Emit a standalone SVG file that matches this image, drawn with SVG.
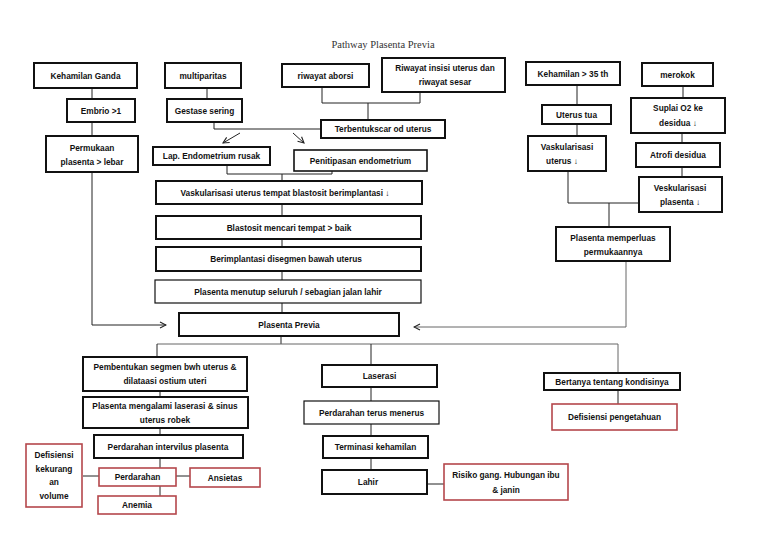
<svg xmlns="http://www.w3.org/2000/svg" width="768" height="543" viewBox="0 0 768 543">
<defs>
<marker id="chev" viewBox="0 0 8 8" refX="7" refY="4" markerWidth="8" markerHeight="8" markerUnits="userSpaceOnUse" orient="auto">
<path d="M1,1 L7,4 L1,7" fill="none" stroke="#222" stroke-width="1.1"/>
</marker>
</defs>
<style>
text{font-family:"Liberation Sans",Arial,sans-serif;font-size:8.3px;font-weight:bold;fill:#111;text-anchor:middle}
.title{font-family:"Liberation Serif","Times New Roman",serif;font-size:10.5px;font-weight:normal;fill:#333}
.b{fill:#fff;stroke:#111;stroke-width:2}
.t{fill:#fff;stroke:#111;stroke-width:1.2}
.r{fill:#fff;stroke:#b5474b;stroke-width:1.6}
.c{fill:none;stroke:#222;stroke-width:1}
.g{fill:none;stroke:#666;stroke-width:1}
</style>
<rect width="768" height="543" fill="#fff"/>
<text class="title" x="383" y="48">Pathway Plasenta Previa</text>

<g id="connectors">
<path class="c" d="M92,88 V99"/>
<path class="c" d="M92,122 V136"/>
<path class="c" d="M92,172 V325 H166" marker-end="url(#chev)"/>
<path class="c" d="M207,88 V99"/>
<path class="c" d="M322,87 V103 H420 V92"/>
<path class="c" d="M368,103 V120"/>
<path class="c" d="M214,122 V129 H321"/>
<path class="c" d="M240,133 L223,143" marker-end="url(#chev)"/>
<path class="c" d="M293,133 L304,143" marker-end="url(#chev)"/>
<path class="c" d="M227,165 V174 H332 V171"/>
<path class="c" d="M282,174 V181"/>
<path class="c" d="M282,204 V216"/>
<path class="c" d="M282,239 V247"/>
<path class="c" d="M282,271 V280"/>
<path class="c" d="M282,303 V313"/>
<path class="c" d="M577,85 V105"/>
<path class="c" d="M577,124 V136"/>
<path class="c" d="M683,86 V98"/>
<path class="c" d="M682,133 V143"/>
<path class="c" d="M682,167 V177"/>
<path class="c" d="M568,171 V203 H639"/>
<path class="c" d="M609,203 V227"/>
<path class="g" d="M626,261 V327 H414" marker-end="url(#chev)"/>
<path class="c" d="M281,336 V344"/>
<path class="g" d="M157,344 H618 V373"/>
<path class="c" d="M157,344 V357"/>
<path class="c" d="M371,344 V365"/>
<path class="c" d="M160,391 V397"/>
<path class="c" d="M160,428 V435"/>
<path class="c" d="M160,458 V468"/>
<path class="c" d="M160,486 V496"/>
<path class="c" d="M83,476 H99"/>
<path class="c" d="M176,476 H190"/>
<path class="c" d="M371,387 V401"/>
<path class="c" d="M371,424 V436"/>
<path class="c" d="M371,458 V470"/>
<path class="c" d="M427,484 H444"/>
<path class="c" d="M618,390 V404"/>
</g>

<g id="n-kehamilan-ganda"><rect class="b" x="34" y="63" width="103" height="25"/><text x="85.5" y="78.5">Kehamilan Ganda</text></g>
<g id="n-embrio"><rect class="b" x="67" y="99" width="68" height="23"/><text x="101" y="113.5">Embrio &gt;1</text></g>
<g id="n-permukaan"><rect class="b" x="46" y="136" width="92" height="36"/><text x="92" y="151">Permukaan</text><text x="92" y="165">plasenta &gt; lebar</text></g>

<g id="n-multiparitas"><rect class="b" x="165" y="63" width="76" height="25"/><text x="203" y="78.5">multiparitas</text></g>
<g id="n-gestase"><rect class="b" x="167" y="99" width="75" height="23"/><text x="204.5" y="113.5">Gestase sering</text></g>
<g id="n-aborsi"><rect class="b" x="282" y="64" width="87" height="23"/><text x="325.5" y="78.5">riwayat aborsi</text></g>
<g id="n-insisi"><rect class="b" x="382" y="58" width="123" height="34"/><text x="445" y="71">Riwayat insisi uterus dan</text><text x="445" y="85">riwayat sesar</text></g>
<g id="n-scar"><rect class="b" x="321" y="120" width="124" height="18"/><text x="383" y="132">Terbentukscar od uterus</text></g>
<g id="n-lap"><rect class="b" x="153" y="147" width="117" height="18"/><text x="211.5" y="159">Lap. Endometrium rusak</text></g>
<g id="n-penitipasan"><rect class="t" x="294" y="150" width="133" height="21" style="stroke-width:1.6"/><text x="360.5" y="163.5">Penitipasan endometrium</text></g>

<g id="n-vask-blastosit"><rect class="b" x="156" y="181" width="266" height="23"/><text x="285" y="195.5">Vaskularisasi uterus tempat blastosit berimplantasi  ↓</text></g>
<g id="n-blastosit"><rect class="b" x="156" y="216" width="265" height="23"/><text x="289" y="230.5">Blastosit mencari tempat &gt; baik</text></g>
<g id="n-berimplantasi"><rect class="b" x="156" y="247" width="265" height="24"/><text x="286" y="262">Berimplantasi disegmen bawah uterus</text></g>
<g id="n-menutup"><rect class="t" x="155" y="280" width="266" height="23"/><text x="288" y="294.5">Plasenta menutup seluruh / sebagian jalan lahir</text></g>
<g id="n-previa"><rect class="b" x="179" y="313" width="220" height="23"/><text x="289" y="327.5">Plasenta Previa</text></g>

<g id="n-keh35"><rect class="b" x="526" y="62" width="94" height="23"/><text x="573" y="76.5">Kehamilan &gt; 35 th</text></g>
<g id="n-merokok"><rect class="b" x="642" y="63" width="71" height="23"/><text x="677.5" y="77.5">merokok</text></g>
<g id="n-uterus-tua"><rect class="b" x="542" y="105" width="69" height="19"/><text x="576.5" y="117.5">Uterus tua</text></g>
<g id="n-vask-uterus"><rect class="b" x="528" y="136" width="78" height="35"/><text x="567" y="150">Vaskularisasi</text><text x="562" y="164">uterus  ↓</text></g>
<g id="n-suplai"><rect class="b" x="631" y="98" width="94" height="35"/><text x="678" y="111">Suplai O2 ke</text><text x="678" y="126">desidua  ↓</text></g>
<g id="n-atrofi"><rect class="b" x="636" y="143" width="84" height="24"/><text x="678" y="158">Atrofi desidua</text></g>
<g id="n-vesk-plasenta"><rect class="b" x="639" y="177" width="83" height="35"/><text x="680" y="191">Veskularisasi</text><text x="680" y="205">plasenta  ↓</text></g>
<g id="n-memperluas"><rect class="b" x="556" y="227" width="114" height="34"/><text x="613" y="241">Plasenta memperluas</text><text x="613" y="255">permukaannya</text></g>

<g id="n-pembentukan"><rect class="b" x="83" y="357" width="164" height="34"/><text x="165" y="370">Pembentukan segmen bwh uterus &amp;</text><text x="165" y="384">dilataasi ostium uteri</text></g>
<g id="n-mengalami"><rect class="b" x="83" y="397" width="165" height="31"/><text x="165" y="409">Plasenta mengalami laserasi &amp; sinus</text><text x="165" y="423">uterus robek</text></g>
<g id="n-intervilus"><rect class="b" x="94" y="435" width="149" height="23"/><text x="168" y="449.5">Perdarahan intervilus plasenta</text></g>
<g id="n-perdarahan"><rect class="r" x="99" y="468" width="77" height="18"/><text x="137.5" y="480">Perdarahan</text></g>
<g id="n-defisiensi-vol"><rect class="r" x="26" y="444" width="56" height="63"/><text x="54" y="458">Defisiensi</text><text x="54" y="472">kekurang</text><text x="54" y="485">an</text><text x="54" y="499">volume</text></g>
<g id="n-ansietas"><rect class="r" x="190" y="468" width="70" height="19"/><text x="225" y="480.5">Ansietas</text></g>
<g id="n-anemia"><rect class="r" x="98" y="496" width="78" height="18"/><text x="137" y="508">Anemia</text></g>

<g id="n-laserasi"><rect class="b" x="322" y="365" width="115" height="22"/><text x="379.5" y="379">Laserasi</text></g>
<g id="n-terus"><rect class="t" x="304" y="401" width="135" height="23"/><text x="371.5" y="415.5">Perdarahan terus menerus</text></g>
<g id="n-terminasi"><rect class="b" x="323" y="436" width="105" height="22"/><text x="375.5" y="450">Terminasi kehamilan</text></g>
<g id="n-lahir"><rect class="b" x="322" y="470" width="105" height="24"/><text x="368" y="485">Lahir</text></g>
<g id="n-risiko"><rect class="r" x="444" y="464" width="124" height="36"/><text x="506" y="478">Risiko gang. Hubungan ibu</text><text x="506" y="493">&amp; janin</text></g>
<g id="n-bertanya"><rect class="b" x="544" y="373" width="136" height="17"/><text x="612" y="384.5">Bertanya tentang kondisinya</text></g>
<g id="n-pengetahuan"><rect class="r" x="552" y="404" width="125" height="26"/><text x="614.5" y="419.5">Defisiensi pengetahuan</text></g>
</svg>
